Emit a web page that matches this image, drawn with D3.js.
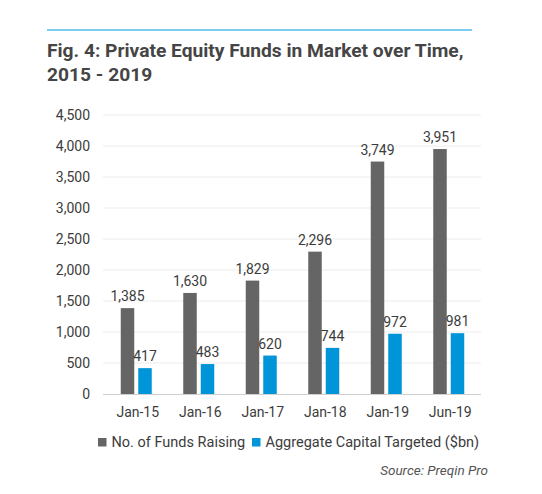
<!DOCTYPE html>
<html><head><meta charset="utf-8">
<script src="https://cdn.jsdelivr.net/npm/d3@7"></script>
<style>body{margin:0;background:#fff}svg{display:block}</style>
</head><body><svg id="c" width="542" height="494"></svg>
<script>
const categories = ["Jan-15","Jan-16","Jan-17","Jan-18","Jan-19","Jun-19"];
const fundsRaising = [1385,1630,1829,2296,3749,3951];
const capitalTargeted = [417,483,620,744,972,981];
const yTicks = [0,500,1000,1500,2000,2500,3000,3500,4000,4500];
const seriesNames = ["No. of Funds Raising","Aggregate Capital Targeted ($bn)"];
const colors = ["#666566","#0095d8"];

const svg = d3.select("#c");
const font = "Roboto, 'DejaVu Sans Condensed', sans-serif";
const textCol = "#3c3c3c";

svg.append("line").attr("x1",47).attr("x2",472).attr("y1",30).attr("y2",30)
  .attr("stroke","#7dcdf0").attr("stroke-width",2);
svg.append("text").attr("x",47).attr("y",57).attr("font-family",font).attr("font-weight","bold")
  .attr("font-size",19.2).attr("fill","#454545").text("Fig. 4: Private Equity Funds in Market over Time,");
svg.append("text").attr("x",47).attr("y",81).attr("font-family",font).attr("font-weight","bold")
  .attr("font-size",19.2).attr("fill","#454545").text("2015 - 2019");

const x = d3.scaleBand().domain(categories).range([105,480]);
const y = d3.scaleLinear().domain([0,4500]).range([394,115]);

svg.append("g").selectAll("line").data(yTicks.filter(d=>d>0)).join("line")
  .attr("x1",103).attr("x2",481).attr("y1",d=>y(d)).attr("y2",d=>y(d))
  .attr("stroke","#ececec").attr("stroke-width",1);

const yAxis = svg.append("g").attr("transform","translate(103,0)")
  .call(d3.axisLeft(y).tickValues(yTicks).tickFormat(d3.format(",")).tickSize(0).tickPadding(13));
yAxis.select(".domain").remove();
yAxis.selectAll("text").attr("font-family",font).attr("font-size",14).attr("fill",textCol);

const bw = 13.5, gap = 4;
const groups = [fundsRaising, capitalTargeted];
groups.forEach((vals,i)=>{
  const off = i===0 ? -gap/2-bw : gap/2;
  svg.append("g").selectAll("rect").data(vals).join("rect")
    .attr("x",(d,j)=>x(categories[j])+x.bandwidth()/2+off)
    .attr("width",bw)
    .attr("y",d=>y(d)).attr("height",d=>y(0)-y(d)).attr("fill",colors[i]);
  svg.append("g").selectAll("text").data(vals).join("text")
    .attr("x",(d,j)=>x(categories[j])+x.bandwidth()/2+off+bw/2)
    .attr("y",d=>y(d)-7).attr("text-anchor","middle")
    .attr("font-family",font).attr("font-size",14).attr("fill",textCol)
    .text(d=>d3.format(",")(d));
});

svg.append("line").attr("x1",103).attr("x2",481).attr("y1",y(0)+0.5).attr("y2",y(0)+0.5)
  .attr("stroke","#d0d0d0").attr("stroke-width",1);

const xAxis = svg.append("g").attr("transform",`translate(1.5,${y(0)})`)
  .call(d3.axisBottom(x).tickSize(0).tickPadding(13));
xAxis.select(".domain").remove();
xAxis.selectAll("text").attr("font-family",font).attr("font-size",14).attr("fill",textCol);

const leg = [{n:seriesNames[0],c:colors[0],x:98},{n:seriesNames[1],c:colors[1],x:252}];
leg.forEach(l=>{
  svg.append("rect").attr("x",l.x).attr("y",438).attr("width",8.5).attr("height",8.5).attr("fill",l.c);
  svg.append("text").attr("x",l.x+13.5).attr("y",447).attr("font-family",font).attr("font-size",14.5)
    .attr("fill",textCol).text(l.n);
});
svg.append("text").attr("x",488).attr("y",475).attr("text-anchor","end").attr("font-family",font)
  .attr("font-style","italic").attr("font-size",13.5).attr("fill","#555").text("Source: Preqin Pro");
</script></body></html>
